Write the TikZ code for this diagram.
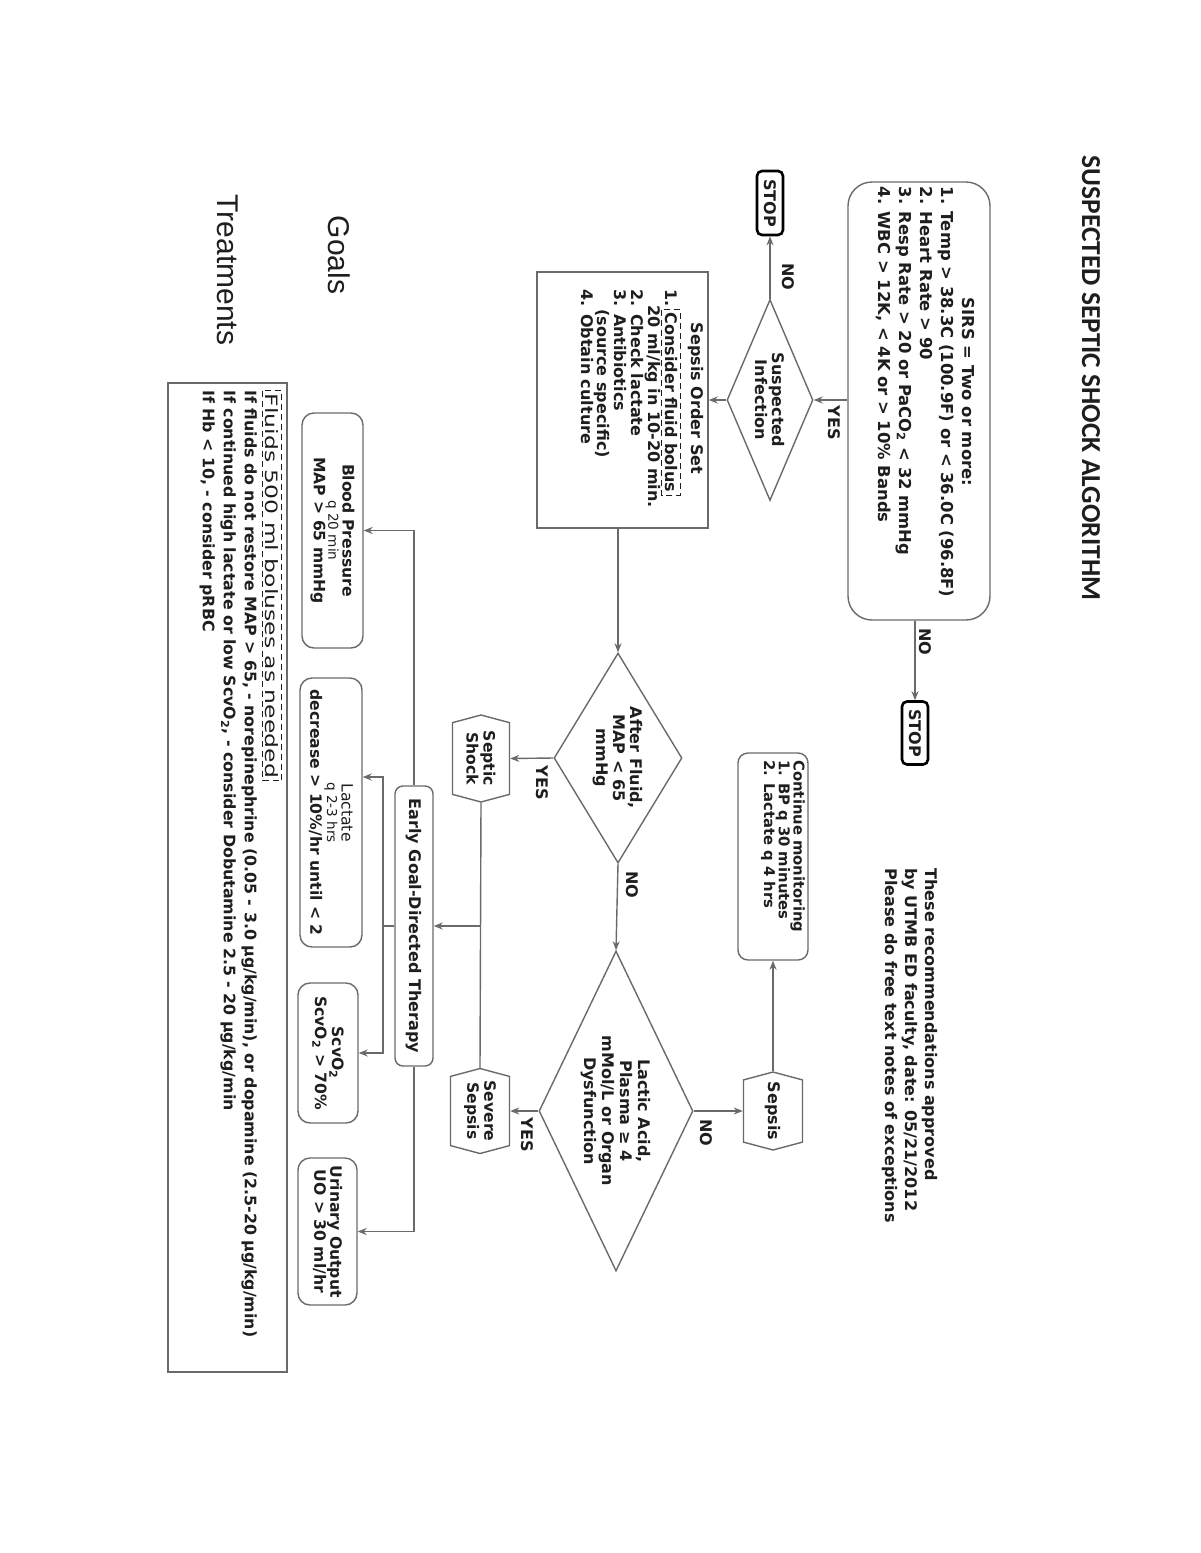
\documentclass[tikz,border=0pt]{standalone}
\usepackage{fontspec}
\setmainfont{DejaVu Sans}
\newfontfamily\titlefont{Carlito}
\newfontfamily\labelfont{Liberation Sans}
\newfontfamily\widefont[FakeStretch=1.38]{DejaVu Sans}
\usetikzlibrary{shapes.geometric,shapes.symbols,arrows.meta,calc}
\definecolor{lncol}{HTML}{6A6A6A}
\definecolor{txcol}{HTML}{1E1E1E}
\newcommand{\dashframe}[1]{\tikz[baseline=(dfn.base),every node/.style={}]\node[draw=txcol,densely dashed,line width=0.5pt,inner xsep=1.5pt,inner ysep=1.5pt](dfn){#1};}
\begin{document}
\begin{tikzpicture}[x=0.5pt,y=-0.5pt,
  every node/.style={rotate=-90,inner sep=0pt,text=txcol,font=\bfseries\fontsize{8}{9.5}\selectfont},
  plainbox/.style={draw=lncol,line width=0.7pt},
  roundbox/.style={plainbox,rounded corners=6pt},
  decision/.style={plainbox,diamond,inner sep=0pt,align=center},
  hexnode/.style={plainbox,signal,signal to=east and west,signal pointer angle=150,align=center},
  stopnode/.style={draw=black,line width=1.3pt,rounded corners=2.5pt},
  link/.style={draw=lncol,line width=0.7pt},
  arrowlink/.style={link,-{Stealth[length=4.5pt,width=3.5pt]}},
  yesno/.style={font=\bfseries\fontsize{8}{9}\selectfont},
  ]
\fill[white] (0,0) rectangle (1200,1553);
\useasboundingbox (0,0) rectangle (1200,1553);

% title
\node[font=\titlefont\bfseries\fontsize{13.7}{15}\selectfont] (title) at (1091,378) {SUSPECTED SEPTIC SHOCK ALGORITHM};

% SIRS
\node[roundbox,rounded corners=12pt,minimum width=219pt,minimum height=71pt] (sirs) at (919,401) {};
\node[align=left,font=\bfseries\fontsize{8.2}{10.5}\selectfont] (sirstext) at (925,392) {\begin{tabular}{@{}l@{}}
\multicolumn{1}{@{}c@{}}{SIRS = Two or more:}\\
1. Temp > 38.3C (100.9F) or < 36.0C (96.8F)\\
2. Heart Rate > 90\\
3. Resp Rate > 20 or PaCO\textsubscript{2} < 32 mmHg\\
4. WBC > 12K, < 4K or > 10\% Bands
\end{tabular}};

% stops
\node[stopnode,minimum width=32pt,minimum height=13pt] (stop1) at (770,203) {STOP};
\node[stopnode,minimum width=31.5pt,minimum height=13pt] (stop2) at (915,733) {STOP};

% suspected infection
\node[decision,minimum width=100.5pt,minimum height=43pt,shape aspect=2.3,font=\bfseries\fontsize{8}{7.6}\selectfont] (infect) at (770,400) {Suspected\\Infection};

% sepsis order set
\node[plainbox,minimum width=128pt,minimum height=85.5pt] (sos) at (622.5,400) {};
\node[anchor=west,align=left,font=\bfseries\fontsize{8}{7.8}\selectfont] (sostext) at (640,289) {\begin{tabular}{@{}l@{}}
\multicolumn{1}{@{}c@{}}{Sepsis Order Set}\\[3pt]
1.\,\dashframe{Consider fluid bolus}\\
\hspace*{8pt}20 ml/kg in 10-20 min.\\
2. Check lactate\\
3. Antibiotics\\
\hspace*{10pt}(source specific)\\
4. Obtain culture
\end{tabular}};

% notes
\node[anchor=west,align=left,font=\bfseries\fontsize{8}{10}\selectfont] (notes) at (910,868) {These recommendations approved\\by UTMB ED faculty, date: 05/21/2012\\Please do free text notes of exceptions};

% continue monitoring
\node[roundbox,rounded corners=5pt,minimum width=103.5pt,minimum height=35pt] (cont) at (773,856.5) {};
\node[anchor=west,align=left,font=\bfseries\fontsize{7.4}{7.4}\selectfont] (conttext) at (783,760) {Continue monitoring\\1. BP q 30 minutes\\2. Lactate q 4 hrs};

% diamonds
\node[decision,minimum width=105pt,minimum height=64pt,shape aspect=1.6,font=\bfseries\fontsize{8}{8.5}\selectfont] (fluid) at (618,758) {After Fluid,\\MAP < 65\\mmHg};
\node[decision,minimum width=160pt,minimum height=77pt,shape aspect=2.08,font=\bfseries\fontsize{8}{9}\selectfont] (lactic) at (616,1111) {Lactic Acid,\\Plasma ≥ 4\\mMol/L or Organ\\Dysfunction};

% hexagons
\node[hexnode,minimum width=43.5pt,minimum height=28.5pt,font=\bfseries\fontsize{7.8}{8.5}\selectfont] (shock) at (481,758.5) {Septic\\Shock};
\node[hexnode,minimum width=42.5pt,minimum height=29.5pt,font=\bfseries\fontsize{7.8}{8.5}\selectfont] (severe) at (480,1111) {Severe\\Sepsis};
\node[hexnode,minimum width=39pt,minimum height=29.5pt] (sepsis) at (773,1111) {Sepsis};

% EGDT
\node[roundbox,rounded corners=4pt,minimum width=140pt,minimum height=19pt] (egdt) at (414,926) {Early Goal-Directed Therapy};

% goals
\node[roundbox,minimum width=117.5pt,minimum height=30.5pt,align=center,font=\bfseries\fontsize{7.8}{7.2}\selectfont] (bp) at (332.5,530.5) {Blood Pressure\\{\mdseries\fontsize{6.8}{7}\selectfont q 20 min}\\MAP > 65 mmHg};
\node[roundbox,minimum width=134.5pt,minimum height=31pt,align=center,font=\bfseries\fontsize{7.8}{7.2}\selectfont] (lact) at (331,812.5) {{\mdseries Lactate}\\{\mdseries\fontsize{6.8}{7}\selectfont q 2-3 hrs}\\decrease > 10\%/hr until < 2};
\node[roundbox,minimum width=70pt,minimum height=30pt,align=center,font=\bfseries\fontsize{7.8}{8.5}\selectfont] (scvo) at (328,1053) {ScvO\textsubscript{2}\\ScvO\textsubscript{2} > 70\%};
\node[roundbox,minimum width=73.5pt,minimum height=29.5pt,align=center,font=\bfseries\fontsize{7.8}{8}\selectfont] (uo) at (327.5,1231.5) {Urinary Output\\UO > 30 ml/hr};

% labels
\node[font=\labelfont\fontsize{15}{17}\selectfont] (goals) at (339,255) {Goals};
\node[font=\labelfont\fontsize{15}{17}\selectfont] (treatlabel) at (228,270) {Treatments};

% treatments
\node[plainbox,minimum width=494.5pt,minimum height=59.5pt] (treat) at (227.5,877.5) {};
\node[anchor=west,align=left,font=\bfseries\fontsize{7.9}{10.5}\selectfont] (treattext) at (241,390) {\dashframe{\widefont\mdseries\fontsize{8.5}{9}\selectfont Fluids 500 ml boluses as needed}\\
If fluids do not restore MAP > 65, - norepinephrine (0.05 - 3.0 µg/kg/min), or dopamine (2.5-20 µg/kg/min)\\
If continued high lactate or low ScvO\textsubscript{2}, - consider Dobutamine 2.5 - 20 µg/kg/min\\
If Hb < 10, - consider pRBC};

% yes / no labels
\node[yesno] (no1) at (925,642) {NO};
\node[yesno] (yes1) at (834,423) {YES};
\node[yesno] (no2) at (788,277) {NO};
\node[yesno] (yes2) at (542,783) {YES};
\node[yesno] (no3) at (632,885) {NO};
\node[yesno] (yes3) at (527,1135) {YES};
\node[yesno] (no4) at (706,1133) {NO};

% connectors
\draw[arrowlink] (stop2.west |- sirs.east) -- (stop2.west);
\draw[arrowlink] (sirs.south |- infect.north) -- (infect.north);
\draw[arrowlink] (infect.west) -- (stop1.east);
\draw[arrowlink] (infect.south) -- (sos.north);
\draw[arrowlink] (sos.east -| fluid.west) -- (fluid.west);
\draw[arrowlink] (fluid.south) -- (shock.north);
\draw[arrowlink] (fluid.east) -- (lactic.west);
\draw[arrowlink] (lactic.south) -- (severe.north);
\draw[arrowlink] (lactic.north) -- (sepsis.south);
\draw[arrowlink] (sepsis.west) -- (cont.east);
\draw[link] (shock.east) -- (severe.west);
\draw[arrowlink] (shock.east |- egdt.north) -- (egdt.north);
\draw[arrowlink] (egdt.west) |- (bp.north);
\coordinate (bus) at (383,926);
\draw[link] (egdt.south) -- (bus);
\draw[arrowlink] (bus) |- ($(lact.north)+(0,-35.5)$);
\draw[arrowlink] (bus) |- (scvo.north);
\draw[arrowlink] (egdt.east) |- (uo.north);
\end{tikzpicture}
\end{document}
